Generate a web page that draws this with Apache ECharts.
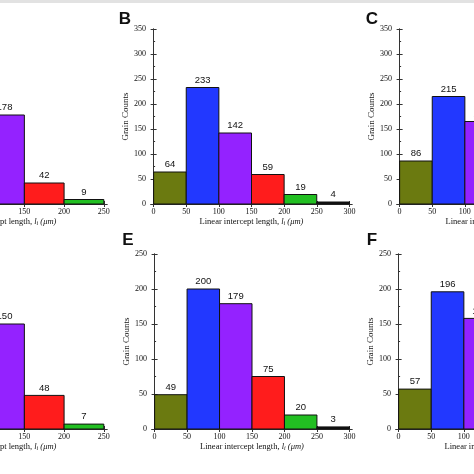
<!DOCTYPE html>
<html lang="en">
<head>
    <meta charset="UTF-8">
    <title>Grain size histograms</title>
    <script src="https://cdn.jsdelivr.net/npm/echarts@6.0.0/dist/echarts.min.js"></script>
    <style>
        html, body { margin: 0; padding: 0; background: #fff; }
        #main { width: 474px; height: 474px; }
    </style>
</head>
<body>
<div id="main"></div>
<script>
    // bin edges (um) and counts per panel
    var binEdges = [0, 50, 100, 150, 200, 250, 300];
    var countsA = [70, 200, 178, 42, 9];
    var countsB = [64, 233, 142, 59, 19, 4];
    var countsC = [86, 215, 165, 58, 16, 3];
    var countsD = [55, 185, 150, 48, 7];
    var countsE = [49, 200, 179, 75, 20, 3];
    var countsF = [57, 196, 158, 68, 18, 3];
    var binColors = ['#6b7a10', '#2238ff', '#9422ff', '#ff1c1c', '#22bf22', '#111111'];

    var xTicks250 = [0, 50, 100, 150, 200, 250];
    var xTicks300 = [0, 50, 100, 150, 200, 250, 300];

    // panel boxes [left, top, width, height]
    var panels = [
        {box: [-98, 29, 205, 175], xmax: 254, ymax: 350, counts: countsA},
        {box: [151, 29, 201, 175], xmax: 304, ymax: 350, counts: countsB, letter: 'B', lx: 125, ly: 19},
        {box: [397, 29, 201, 175], xmax: 304, ymax: 350, counts: countsC, letter: 'C', lx: 372, ly: 19},
        {box: [-98, 254, 205, 175], xmax: 254, ymax: 250, counts: countsD},
        {box: [152, 254, 200, 175], xmax: 304, ymax: 250, counts: countsE, letter: 'E', lx: 128, ly: 240},
        {box: [396, 254, 201, 175], xmax: 304, ymax: 250, counts: countsF, letter: 'F', lx: 372, ly: 240}
    ];

    var axisCol = '#333';
    var txtCol = '#111';
    var serif = 'Liberation Serif';

    var grids = [], xAxes = [], yAxes = [], series = [], graphics = [];

    graphics.push({type: 'rect', shape: {x: 0, y: 0, width: 474, height: 3}, style: {fill: '#e2e2e2'}, z: 10});

    panels.forEach(function (p, k) {
        var ticks = p.xmax > 260 ? xTicks300 : xTicks250;
        grids.push({
            left: p.box[0], top: p.box[1], width: p.box[2], height: p.box[3],
            outerBoundsMode: 'none', containLabel: false
        });
        // bottom x axis
        xAxes.push({
            type: 'value', gridIndex: k, position: 'bottom', min: -4, max: p.xmax,
            axisLine: {lineStyle: {color: axisCol, width: 1}},
            axisTick: {inside: true, length: 3, lineStyle: {color: axisCol}, customValues: ticks},
            splitLine: {show: false},
            axisLabel: {fontFamily: serif, fontSize: 8, color: txtCol, margin: 4, customValues: ticks},
            name: 'Linear intercept length, {i|l}{s|i} {i|(\u03bcm)}',
            nameLocation: 'middle', nameGap: 12,
            nameTextStyle: {
                fontFamily: serif, fontSize: 8.5, color: txtCol,
                rich: {
                    i: {fontFamily: serif, fontSize: 8.5, fontStyle: 'italic', color: txtCol},
                    s: {fontFamily: serif, fontSize: 6, fontStyle: 'italic', color: txtCol, padding: [4, 0, 0, 0]}
                }
            }
        });
        // top x axis (box)
        xAxes.push({
            type: 'value', gridIndex: k, position: 'top', min: -4, max: p.xmax,
            axisLine: {lineStyle: {color: axisCol, width: 1}},
            axisTick: {inside: true, length: 3, lineStyle: {color: axisCol}, customValues: ticks},
            axisLabel: {show: false},
            splitLine: {show: false}
        });
        // left y axis
        yAxes.push({
            type: 'value', gridIndex: k, position: 'left', min: 0, max: p.ymax, interval: 50,
            axisLine: {show: true, lineStyle: {color: axisCol, width: 1}},
            axisTick: {show: true, inside: true, length: 3, lineStyle: {color: axisCol}},
            minorTick: {show: true, splitNumber: 2, length: 1.5, lineStyle: {color: axisCol}},
            splitLine: {show: false},
            axisLabel: {fontFamily: serif, fontSize: 8, color: txtCol, margin: 5},
            name: 'Grain Counts', nameLocation: 'middle', nameGap: 17,
            nameTextStyle: {fontFamily: serif, fontSize: 9, color: txtCol}
        });
        // right y axis (box)
        yAxes.push({
            type: 'value', gridIndex: k, position: 'right', min: 0, max: p.ymax, interval: 50,
            axisLine: {show: true, lineStyle: {color: axisCol, width: 1}},
            axisTick: {show: true, inside: true, length: 3, lineStyle: {color: axisCol}},
            axisLabel: {show: false},
            splitLine: {show: false}
        });

        var data = p.counts.map(function (v, i) {
            return [binEdges[i], binEdges[i + 1], v];
        });

        series.push({
            type: 'custom',
            xAxisIndex: k * 2,
            yAxisIndex: k * 2,
            data: data,
            clip: false,
            renderItem: function (params, api) {
                var p0 = api.coord([api.value(0), 0]);
                var p1 = api.coord([api.value(1), api.value(2)]);
                return {
                    type: 'rect',
                    shape: {x: p0[0], y: p1[1], width: p1[0] - p0[0], height: p0[1] - p1[1]},
                    style: {fill: binColors[params.dataIndex], stroke: '#111', lineWidth: 1},
                    textContent: {
                        style: {
                            text: String(api.value(2)),
                            fontFamily: 'Liberation Sans', fontSize: 9.5, fill: txtCol
                        }
                    },
                    textConfig: {position: 'top', distance: 2}
                };
            }
        });

        if (p.letter) {
            graphics.push({
                type: 'text', x: p.lx, y: p.ly,
                style: {
                    text: p.letter, fontFamily: 'Liberation Sans', fontWeight: 'bold',
                    fontSize: 17, fill: '#111', align: 'center', verticalAlign: 'middle'
                }
            });
        }
    });

    var chart = echarts.init(document.getElementById('main'));
    chart.setOption({
        animation: false,
        backgroundColor: '#fff',
        grid: grids,
        xAxis: xAxes,
        yAxis: yAxes,
        series: series,
        graphic: graphics
    });
</script>
</body>
</html>
